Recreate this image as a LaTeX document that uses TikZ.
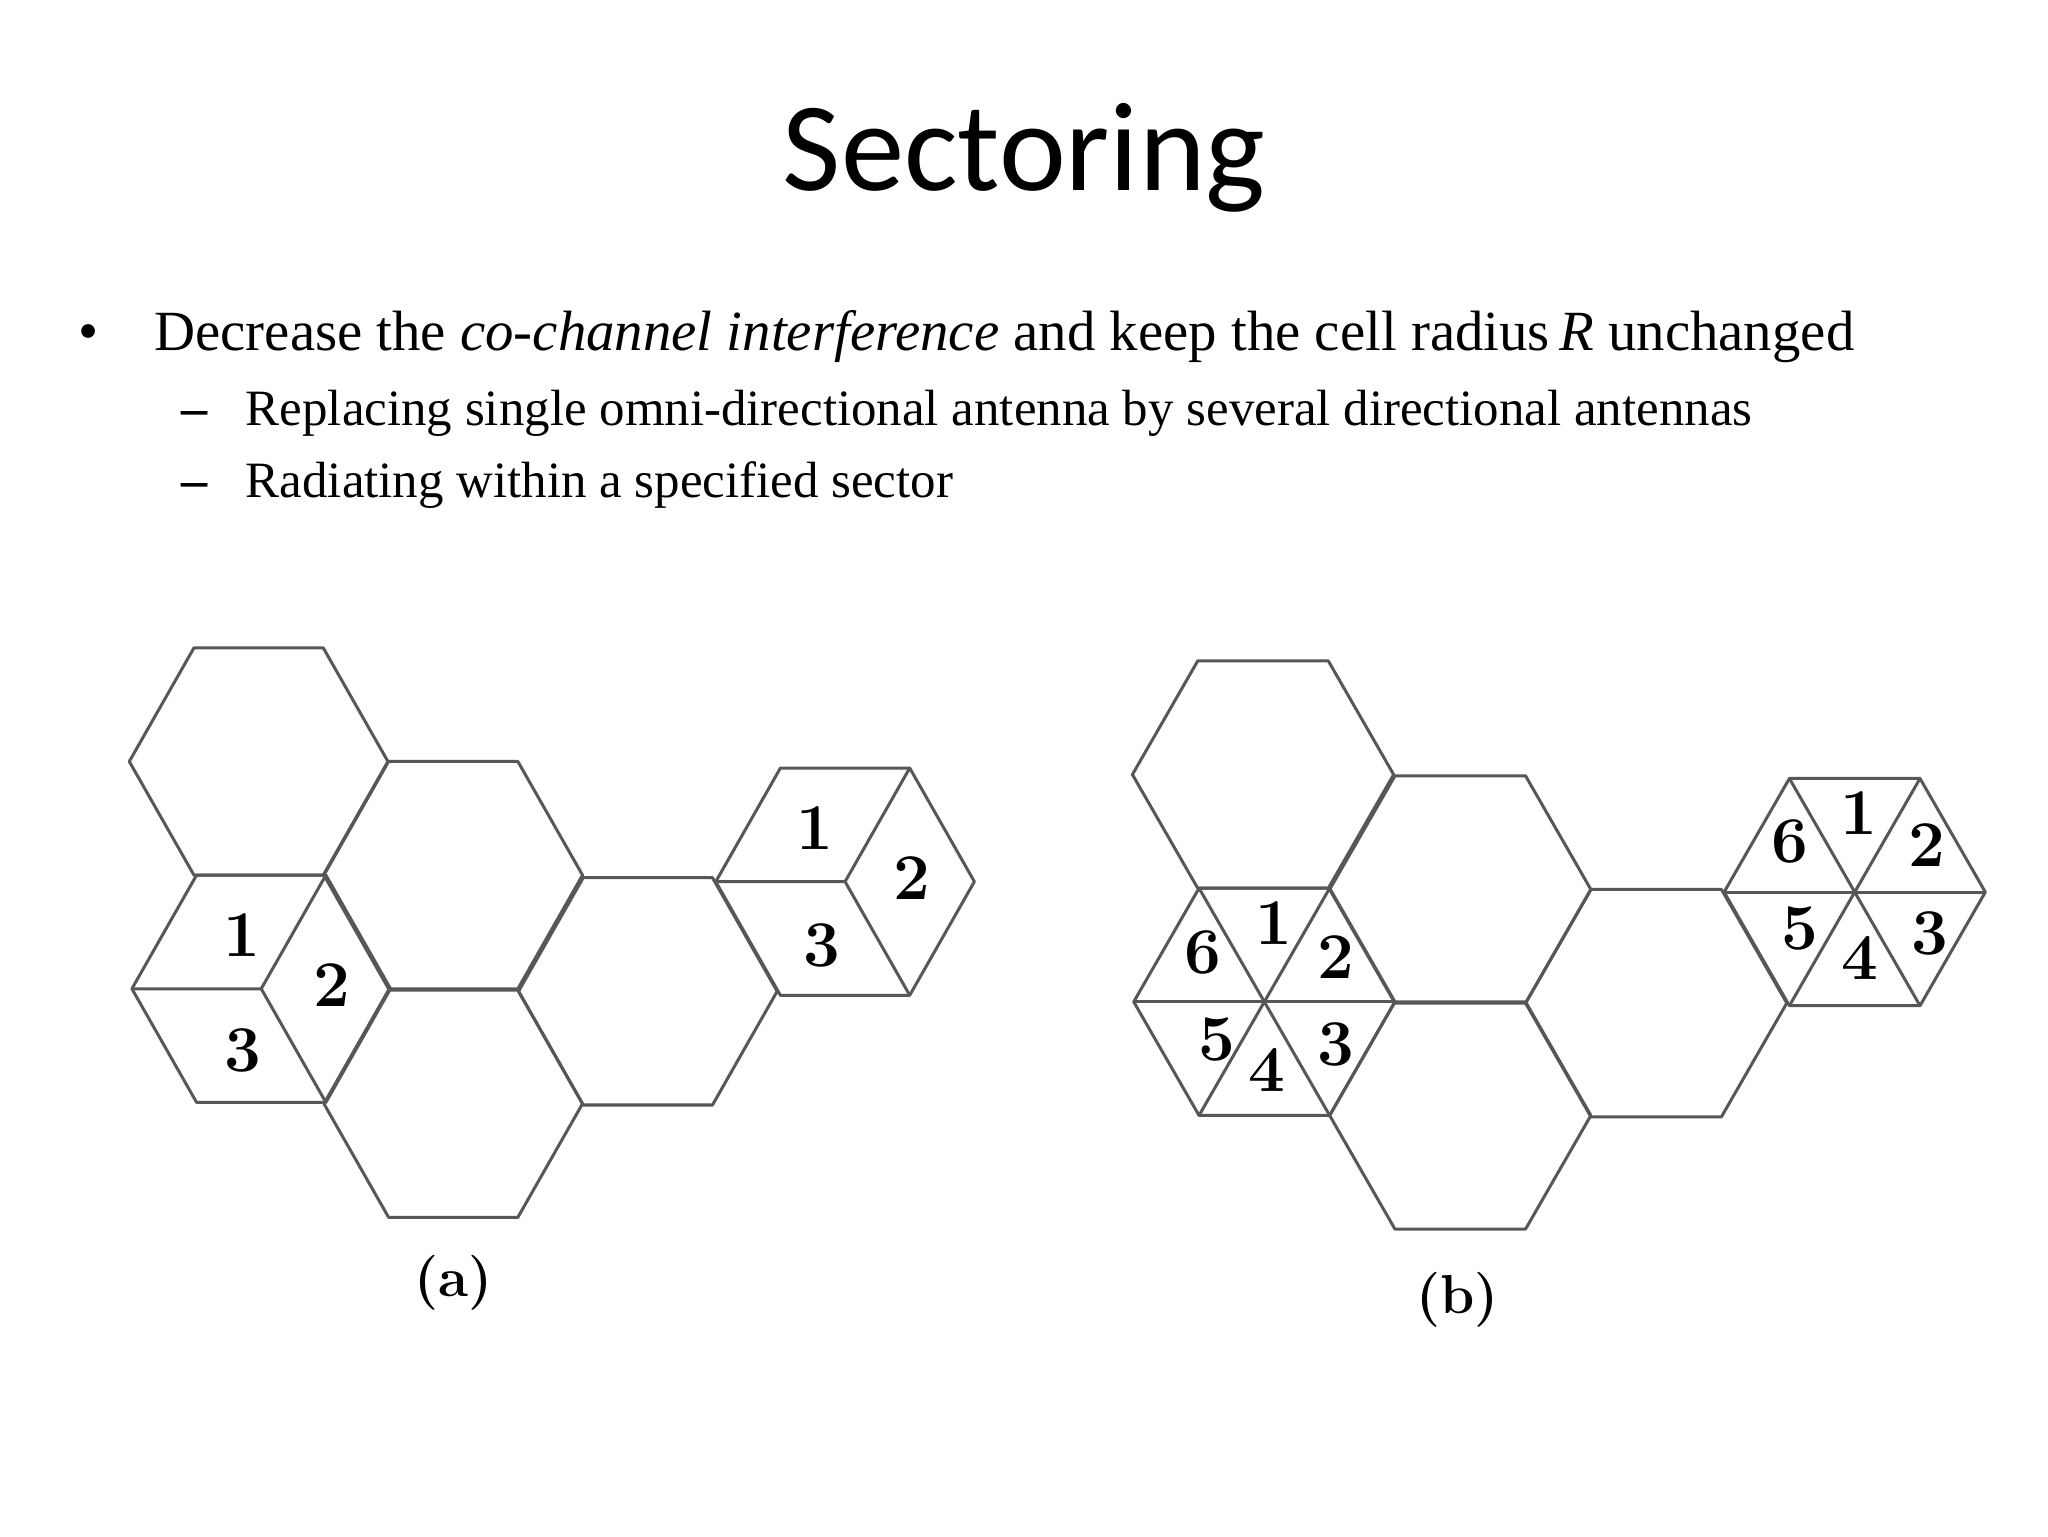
\documentclass[tikz,border=0pt]{standalone}
\usepackage{fontspec}
\newfontfamily\timesf{Liberation Serif}
\newfontfamily\titlef{Carlito}
\usetikzlibrary{calc}
\newcommand\hexcell[3]{% name, cx, cy
  \coordinate (#1) at (#2,#3);
  \begin{scope}[shift={(#2,#3)}]
    \draw[cell] (-\ha,0) -- (-\ha/2,-\hb) -- (\ha/2,-\hb) -- (\ha,0) -- (\ha/2,\hb) -- (-\ha/2,\hb) -- cycle;
  \end{scope}}
\newcommand\threesec[2]{%
  \begin{scope}[shift={(#1,#2)}]
    \draw[cell] (-\ha,0) -- (0,0) -- (\ha/2,-\hb);
    \draw[cell] (0,0) -- (\ha/2,\hb);
  \end{scope}}
\newcommand\sixsec[2]{%
  \begin{scope}[shift={(#1,#2)}]
    \draw[cell] (-\ha,0) -- (\ha,0);
    \draw[cell] (-\ha/2,-\hb) -- (\ha/2,\hb);
    \draw[cell] (\ha/2,-\hb) -- (-\ha/2,\hb);
  \end{scope}}
\begin{document}
\begin{tikzpicture}[x=1pt,y=-1pt,
  cell/.style={draw=black!66, line width=2.3pt, line join=round},
  num/.style={inner sep=0pt, font=\fontsize{50}{50}\selectfont\bfseries},
  capt/.style={inner sep=0pt, font=\fontsize{42}{42}\selectfont\bfseries},
  txt/.style={inner sep=0pt, anchor=base west}]
\fill[white] (0,0) rectangle (1568,1176);
\useasboundingbox (0,0) rectangle (1568,1176);

% title and text
\node[inner sep=0pt, anchor=base] (title) at (784,146) {\titlef\fontsize{97}{97}\selectfont Sectoring};
\node[txt] (bul) at (60,268.5) {\timesf\fontsize{44}{44}\selectfont •};
\node[txt] (l1) at (118,268.5) {\timesf\fontsize{43.5}{44}\selectfont Decrease the \textit{co-channel interference} and keep the cell radius\,\textit{R} unchanged};
\node[txt] (d2) at (139,326) {\timesf\fontsize{40}{40}\selectfont\bfseries –};
\node[txt] (l2) at (188,326) {\timesf\fontsize{39}{39}\selectfont Replacing single omni-directional antenna by several directional antennas};
\node[txt] (d3) at (139,381) {\timesf\fontsize{40}{40}\selectfont\bfseries –};
\node[txt] (l3) at (188,381) {\timesf\fontsize{39}{39}\selectfont Radiating within a specified sector};

% diagram (a)
\def\ha{99}\def\hb{87}
\hexcell{a1}{198}{583}
\hexcell{a2}{347}{670}
\hexcell{aS}{200}{757}
\hexcell{a3}{347}{845}
\hexcell{a4}{496}{759}
\hexcell{aT}{647}{675}
\threesec{200}{757}
\threesec{647}{675}
\node[num] (aS1) at (185,716) {1};
\node[num] (aS2) at (254,754) {2};
\node[num] (aS3) at (186,804) {3};
\node[num] (aT1) at (624,634) {1};
\node[num] (aT2) at (698,672.5) {2};
\node[num] (aT3) at (629,723.5) {3};
\node[capt] (capa) at (347,982) {(a)};

% diagram (b)
\def\ha{100}\def\hb{87}
\hexcell{b1}{967}{593}
\hexcell{b2}{1118}{681}
\hexcell{bS}{968}{767}
\hexcell{b3}{1118}{854}
\hexcell{b4}{1268}{768}
\hexcell{bT}{1420}{683}
\sixsec{968}{767}
\sixsec{1420}{683}
\node[num] (bS6) at (921,729) {6};
\node[num] (bS1) at (975,707) {1};
\node[num] (bS2) at (1023,733) {2};
\node[num] (bS5) at (932,796) {5};
\node[num] (bS4) at (970,819) {4};
\node[num] (bS3) at (1023,800) {3};
\node[num] (bT6) at (1370.5,644.4) {6};
\node[num] (bT1) at (1423,622.7) {1};
\node[num] (bT2) at (1475,647) {2};
\node[num] (bT5) at (1378,710.7) {5};
\node[num] (bT4) at (1424,733.7) {4};
\node[num] (bT3) at (1477.6,714.6) {3};
\node[capt] (capb) at (1116,995) {(b)};
\end{tikzpicture}
\end{document}
